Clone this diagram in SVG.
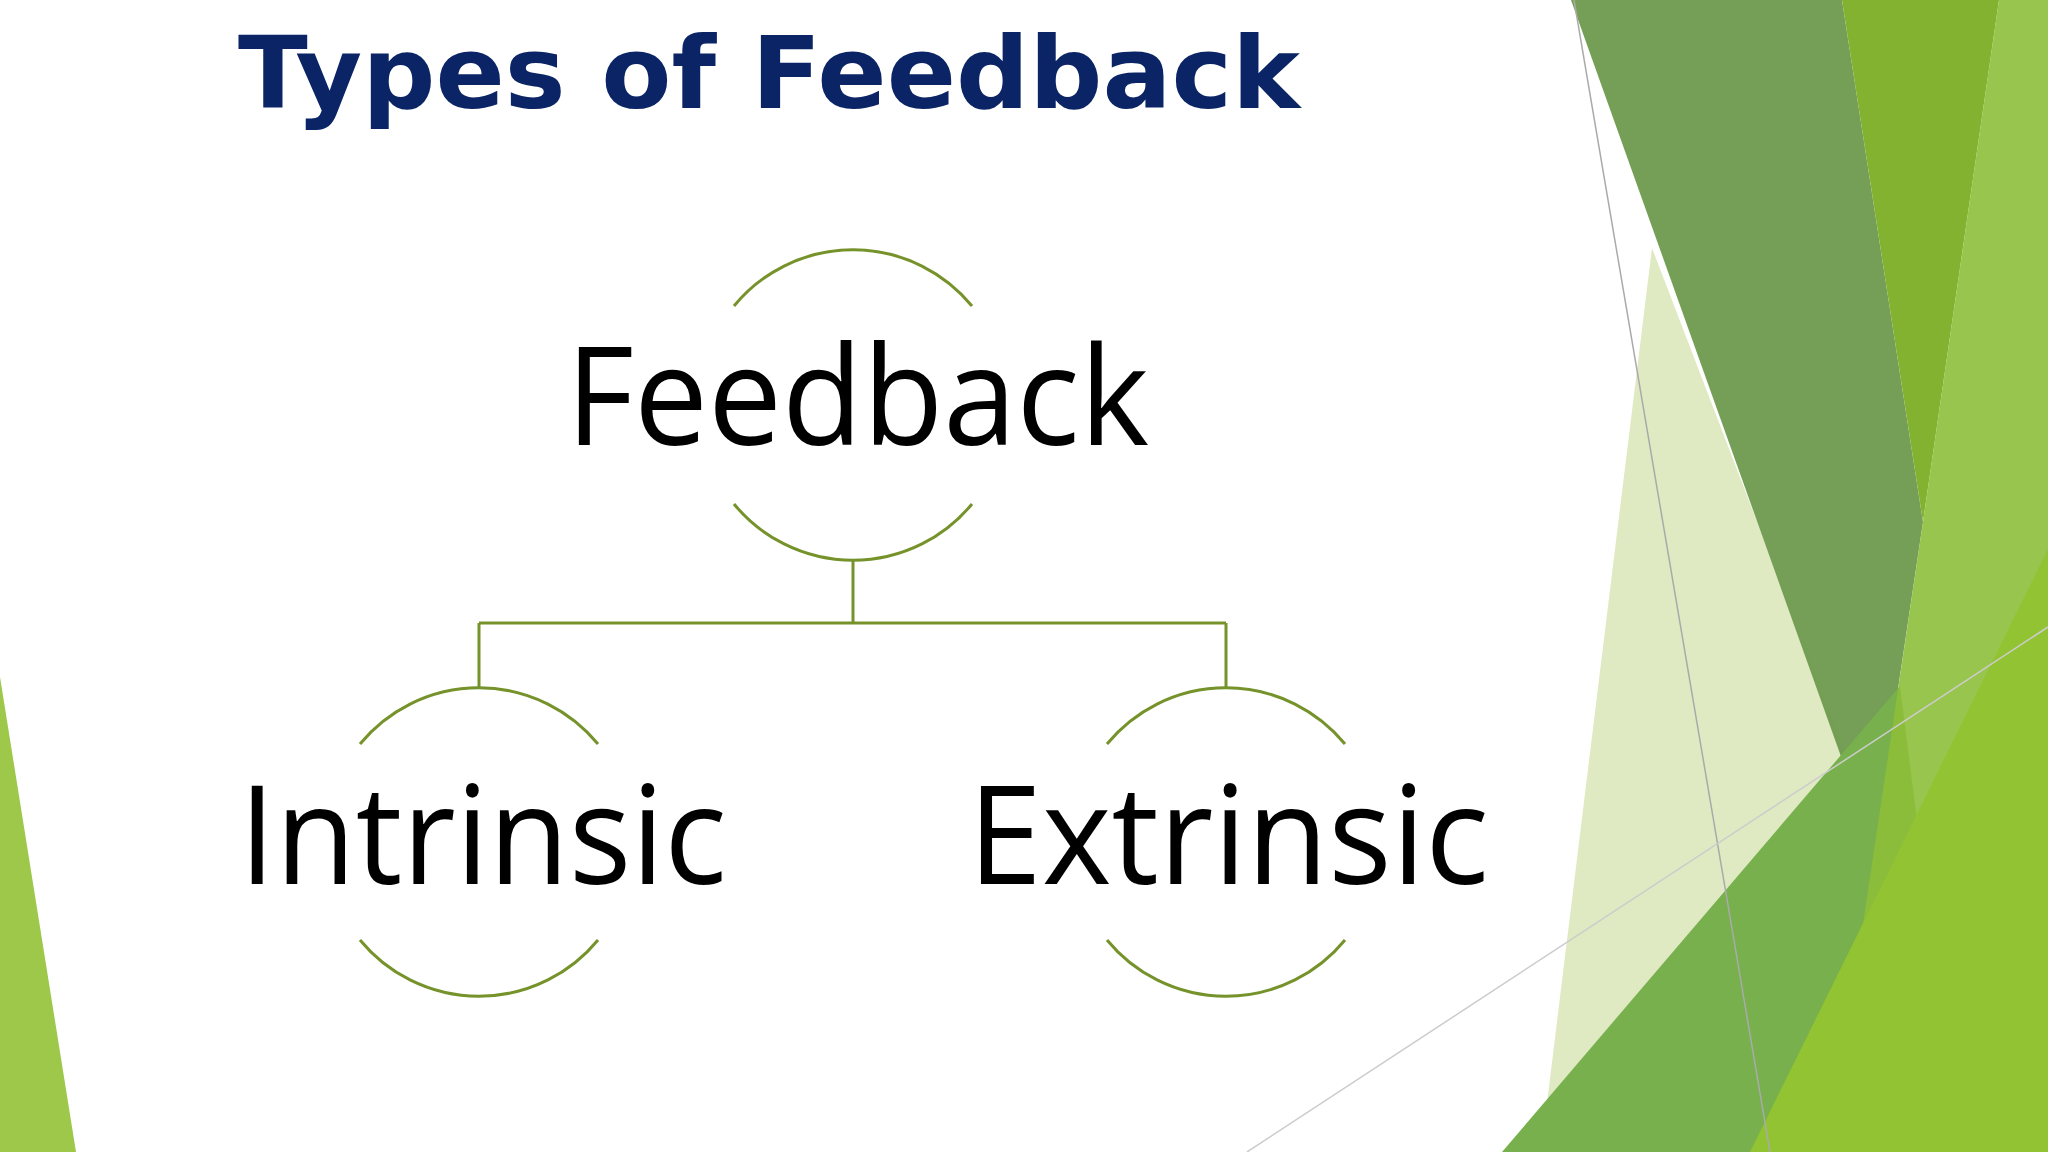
<svg xmlns="http://www.w3.org/2000/svg" width="2048" height="1152" viewBox="0 0 2048 1152">
<style>
.arc{fill:none;stroke:#76922a;stroke-width:3}
.con{fill:none;stroke:#76922a;stroke-width:3}
.lbl{font-family:"Open Sans","DejaVu Sans",sans-serif;fill:#000}
</style>
<rect width="2048" height="1152" fill="#fff"/>
<g id="background">
<polygon points="1652,248 1860,790 1737,1152 1541,1152" fill="#dfe9c2"/>
<polygon points="1571,0 1842,0 1923,522 1874,849" fill="#6e9a4e" opacity="0.95"/>
<polygon points="1842,0 1999,0 1923,522" fill="#82b230"/>
<polygon points="1502,1152 1900,686 1959,1152" fill="#77b04c"/>
<polygon points="1999,0 2048,0 2048,1152 1829,1152 1923,522" fill="#8dbf3a" opacity="0.9"/>
<polygon points="2048,549 2048,1152 1750,1152" fill="#92c332"/>
<polygon points="0,677 76,1152 0,1152" fill="#9dc84a"/>
<line x1="1574" y1="0" x2="1770" y2="1152" stroke="#aaa" stroke-width="1.5"/>
<line x1="1247" y1="1152" x2="2048" y2="627" stroke="#ccc" stroke-width="1.5"/>
</g>
<text x="238" y="108" font-family="'DejaVu Sans',Verdana,sans-serif" font-weight="bold" font-size="100" fill="#0a2465" textLength="1062" lengthAdjust="spacingAndGlyphs">Types of Feedback</text>
<g id="connectors">
<path class="con" d="M853,559 V623 M479,623 H1226 M479,623 V688 M1226,623 V688"/>
</g>
<g id="feedback">
<path class="arc" d="M734,306 A154,154 0 0 1 972,306"/>
<path class="arc" d="M734,504 A154,154 0 0 0 972,504"/>
<text class="lbl" x="566" y="445" font-size="137" textLength="583" lengthAdjust="spacingAndGlyphs">Feedback</text>
</g>
<g id="intrinsic">
<path class="arc" d="M360,744 A154,154 0 0 1 598,744"/>
<path class="arc" d="M360,940 A154,154 0 0 0 598,940"/>
<text class="lbl" x="239" y="884" font-size="137" textLength="488" lengthAdjust="spacingAndGlyphs">Intrinsic</text>
</g>
<g id="extrinsic">
<path class="arc" d="M1107,744 A154,154 0 0 1 1345,744"/>
<path class="arc" d="M1107,940 A154,154 0 0 0 1345,940"/>
<text class="lbl" x="968" y="884" font-size="137" textLength="521" lengthAdjust="spacingAndGlyphs">Extrinsic</text>
</g>
</svg>
